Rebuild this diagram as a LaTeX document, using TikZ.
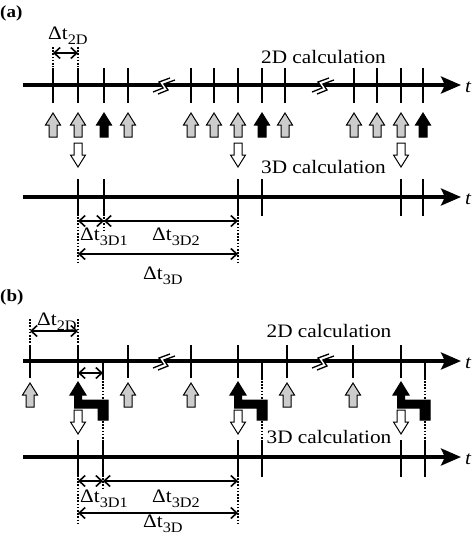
\documentclass[tikz,border=0pt]{standalone}
\usepackage{fontspec}
\usepackage{graphicx}
\setmainfont{Liberation Serif}
\usetikzlibrary{arrows.meta}
\newcommand{\hs}[1]{\scalebox{1.12}[1]{#1}}
\newcommand{\dts}[1]{\hs{Δt\raisebox{-5pt}{\fontsize{14.5}{14.5}\selectfont #1}}}
\begin{document}
\begin{tikzpicture}[x=1pt,y=-1pt,
  axis/.style={line width=3.6pt,-{Stealth[length=20pt,width=17pt,inset=4pt]}},
  tick/.style={line width=2pt},
  dim/.style={line width=1.6pt,{Straight Barb[length=6pt,width=11pt,line width=1.6pt]}-{Straight Barb[length=6pt,width=11pt,line width=1.6pt]}},
  dotl/.style={line width=1.8pt,dash pattern=on 1.6pt off 1.6pt},
  lbl/.style={font=\fontsize{19}{19}\selectfont,inner sep=0pt},
  lblb/.style={font=\fontsize{17}{17}\selectfont\bfseries,inner sep=0pt},
  tlbl/.style={font=\fontsize{19}{19}\selectfont\itshape,inner sep=0pt,anchor=base west},
  uparr/.pic={\path[pic actions] (0,0) -- (7.5,12) -- (4,12) -- (4,24) -- (-4,24) -- (-4,12) -- (-7.5,12) -- cycle;},
  dnarr/.pic={\path[pic actions] (0,24) -- (7.5,12) -- (4,12) -- (4,0) -- (-4,0) -- (-4,12) -- (-7.5,12) -- cycle;},
  brk/.pic={\fill[white] (-9,7) -- (1,3) -- (-3,-3) -- (8,-7) -- (13,-5) -- (2,-1) -- (6,5) -- (-4,9) -- cycle;
            \draw[line width=1.3pt] (-9,7) -- (1,3) -- (-3,-3) -- (8,-7);
            \draw[line width=1.3pt] (-4,9) -- (6,5) -- (2,-1) -- (13,-5);},
  grayarr/.style={draw=black,fill=gray!40,line width=1pt},
  blackarr/.style={draw=black,fill=black,line width=1pt},
  whitearr/.style={draw=black,fill=white,line width=1pt}
]
\useasboundingbox (0,0) rectangle (474,536);

%%%%%%%%%%%%%%%% (a)
\node[lblb,anchor=base west] (la) at (0,17) {\hs{(a)}};

% top axis
\coordinate (A1s) at (23,85);
\coordinate (A1e) at (461,85);
\draw[axis] (A1s) -- (A1e);
\foreach \x in {53,78,104,128,191,214,238,262,285,354,377,401,423}
  \draw[tick] (\x,68) -- (\x,103);
\pic at (162,85) {brk};
\pic at (321,85) {brk};
\node[tlbl] (ta1) at (465,92) {\hs{t}};
\node[lbl,anchor=base] (c2a) at (323.5,63) {\hs{2D calculation}};

% dt2D
\draw[dotl] (53,47) -- (53,67);
\draw[dotl] (78,47) -- (78,67);
\coordinate (d2a1) at (53,53);
\coordinate (d2a2) at (78,53);
\draw[dim] (d2a1) -- (d2a2);
\node[lbl,anchor=base west] (dt2a) at (48,39) {\dts{2D}};

% arrows
\foreach \x in {53,78,128,191,214,238,285,354,377,401}
  \pic[grayarr] at (\x,113) {uparr};
\foreach \x in {104,262,423}
  \pic[blackarr] at (\x,113) {uparr};
\foreach \x in {78,238,401}
  \pic[whitearr] at (\x,143) {dnarr};

% bottom axis
\node[lbl,anchor=base] (c3a) at (323.5,173) {\hs{3D calculation}};
\coordinate (A2s) at (23,197);
\coordinate (A2e) at (461,197);
\draw[axis] (A2s) -- (A2e);
\foreach \x in {78,104,238,262,401,423}
  \draw[tick] (\x,179) -- (\x,216);
\node[tlbl] (ta2) at (465,204) {\hs{t}};

\draw[dotl] (78,217) -- (78,264);
\draw[dotl] (104,217) -- (104,230);
\draw[dotl] (238,217) -- (238,264);
\coordinate (p1) at (78,221);
\coordinate (p2) at (104,221);
\coordinate (p3) at (238,221);
\draw[dim] (p1) -- (p2);
\draw[dim] (p2) -- (p3);
\coordinate (q1) at (78,254);
\coordinate (q3) at (238,254);
\draw[dim] (q1) -- (q3);
\node[lbl,anchor=base west] (d31a) at (80,240) {\dts{3D1}};
\node[lbl,anchor=base west] (d32a) at (152,240) {\dts{3D2}};
\node[lbl,anchor=base west] (d3a) at (143,279) {\dts{3D}};

%%%%%%%%%%%%%%%% (b)
\node[lblb,anchor=base west] (lb) at (0,301) {\hs{(b)}};

\draw[dotl] (30,319) -- (30,344);
\draw[dotl] (78,319) -- (78,344);
\coordinate (d2b1) at (30,331);
\coordinate (d2b2) at (78,331);
\draw[dim] (d2b1) -- (d2b2);
\node[lbl,anchor=base west] (dt2b) at (37,325) {\dts{2D}};

\coordinate (B1s) at (23,361);
\coordinate (B1e) at (461,361);
\draw[axis] (B1s) -- (B1e);
\foreach \x in {30,78,128,191,238,287,353,401}
  \draw[tick] (\x,345) -- (\x,378);
\foreach \x in {103,262,425}{
  \draw[tick] (\x,361) -- (\x,380);
  \draw[dotl] (\x,381) -- (\x,402);
}
\pic at (162,361) {brk};
\pic at (321,361) {brk};
\node[tlbl] (tb1) at (465,368) {\hs{t}};
\node[lbl,anchor=base] (c2b) at (329,337) {\hs{2D calculation}};

\coordinate (s1) at (78,373);
\coordinate (s2) at (103,373);
\draw[dim] (s1) -- (s2);

\foreach \x in {30,128,191,287,353}
  \pic[grayarr] at (\x,383) {uparr};
\foreach \a/\b in {78/103,238/262,401/425}
  \filldraw[blackarr] (\a,382) -- (\a+8,395) -- (\a+3.5,395) -- (\a+3.5,400) -- (\b+5,400) -- (\b+5,420) -- (\b-5,420) -- (\b-5,408) -- (\a-3.5,408) -- (\a-3.5,395) -- (\a-8,395) -- cycle;
\foreach \x in {78,238,401}
  \pic[whitearr] at (\x,410) {dnarr};

\node[lbl,anchor=base] (c3b) at (329,443) {\hs{3D calculation}};
\coordinate (B2s) at (23,457);
\coordinate (B2e) at (461,457);
\draw[axis] (B2s) -- (B2e);
\foreach \x in {78,103,238,262,401,425}
  \draw[tick] (\x,440) -- (\x,477);
\foreach \x in {103,262,425}
  \draw[dotl] (\x,421) -- (\x,440);
\node[tlbl] (tb2) at (465,464) {\hs{t}};

\draw[dotl] (78,478) -- (78,524);
\draw[dotl] (103,478) -- (103,490);
\draw[dotl] (238,478) -- (238,524);
\coordinate (r1) at (78,481);
\coordinate (r2) at (103,481);
\coordinate (r3) at (238,481);
\draw[dim] (r1) -- (r2);
\draw[dim] (r2) -- (r3);
\coordinate (u1) at (78,513);
\coordinate (u3) at (238,513);
\draw[dim] (u1) -- (u3);
\node[lbl,anchor=base west] (d31b) at (80,502) {\dts{3D1}};
\node[lbl,anchor=base west] (d32b) at (152,502) {\dts{3D2}};
\node[lbl,anchor=base west] (d3b) at (143,527) {\dts{3D}};
\end{tikzpicture}
\end{document}
